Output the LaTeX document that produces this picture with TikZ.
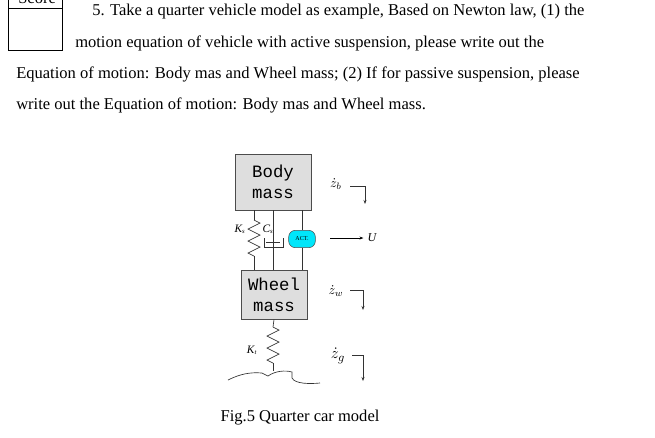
\documentclass[tikz,border=0pt]{standalone}
\usepackage{fontspec}
\setmainfont{Liberation Serif}
\newfontfamily\monof{Liberation Mono}
\usetikzlibrary{decorations.pathmorphing,arrows.meta}
\definecolor{actc}{RGB}{0,230,250}
\begin{document}
\begin{tikzpicture}[x=0.75pt,y=-0.75pt,
  txt/.style={anchor=base west,inner sep=0,font=\fontsize{12.4}{14}\selectfont},
  mass/.style={draw=black!70,fill=black!13,line width=0.5pt,align=center,font=\monof\fontsize{13}{16}\selectfont},
  spr/.style={decorate,decoration={zigzag,segment length=9pt,amplitude=4.5pt},line width=0.5pt},
  ln/.style={line width=0.5pt,black!80},
  arr/.style={line width=0.5pt,-{Stealth[length=3pt]}}]
\useasboundingbox (0,0) rectangle (655,437);
\begin{scope}
\clip (0,0) rectangle (655,437);
\draw[line width=0.7pt] (8,-10) rectangle (62,50);
\draw[line width=0.7pt] (8,8) -- (62,8);
\node[txt] (sc) at (18,3) {Score};
\end{scope}
\node[txt] (l1) at (92,15) {5. Take a quarter vehicle model as example, Based on Newton law, (1) the};
\node[txt] (l2) at (75,47) {motion equation of vehicle with active suspension, please write out the};
\node[txt] (l3) at (16,78) {Equation of motion: Body mas and Wheel mass; (2) If for passive suspension, please};
\node[txt] (l4) at (16,109) {write out the Equation of motion: Body mas and Wheel mass.};
% masses
\node[mass,minimum width=57pt,minimum height=42pt] (body) at (273,182) {Body\\mass};
\node[mass,minimum width=49.5pt,minimum height=37pt] (wheel) at (274,294.5) {Wheel\\mass};
% spring Ks
\coordinate (s1) at (254,210); \coordinate (s2) at (254,270);
\draw[ln] (s1) -- (254,220);
\draw[ln,spr] (254,220) -- (254,256);
\draw[ln] (254,256) -- (s2);
% damper
\draw[ln] (273,210) -- (273,245);
\draw[ln] (264,238) -- (264,247) -- (283,247) -- (283,238);
\draw[ln] (266,242) -- (280,242);
\draw[ln] (273,242) -- (273,270);
% actuator
\node[draw=black!70,fill=actc,rounded corners=5pt,minimum width=20pt,minimum height=13pt,inner sep=0,font=\fontsize{4.5}{5}\selectfont] (act) at (302,239) {ACT.};
\draw[ln] (302,210) -- (act.north);
\draw[ln] (act.south) -- (302,270);
\node[font=\itshape\fontsize{8.5}{9}\selectfont,inner sep=0] (ks) at (240,229) {K\textsubscript{\fontsize{5}{5}\selectfont s}};
\node[font=\itshape\fontsize{8.5}{9}\selectfont,inner sep=0] (cs) at (268,229) {C\textsubscript{\fontsize{5}{5}\selectfont s}};
% tyre spring
\draw[ln] (wheel.south) -- (273,327);
\draw[ln,spr] (273,327) -- (273,363);
\draw[ln] (273,363) -- (273,371);
\node[font=\itshape\fontsize{8.5}{9}\selectfont,inner sep=0] (kt) at (252,350) {K\textsubscript{\fontsize{5}{5}\selectfont t}};
% ground
\draw[ln] (228,380) .. controls (240,374) and (250,372) .. (262,373) -- (268,376) .. controls (275,371) and (285,370) .. (292,372) -- (292,378) .. controls (295,384) and (310,384) .. (320,383);
% velocities
\node[font=\fontsize{10}{10}\selectfont,inner sep=1pt] (zb) at (336,184) {$\dot z_b$};
\draw[ln,-{Stealth[length=3pt]}] (350,186) -- (365,186) -- (365,204);
\node[font=\fontsize{10}{10}\selectfont,inner sep=1pt] (zw) at (336,291) {$\dot z_w$};
\draw[ln,-{Stealth[length=3pt]}] (350,290) -- (363,290) -- (363,310);
\node[font=\fontsize{13}{13}\selectfont,inner sep=1pt] (zg) at (338,356) {$\dot z_g$};
\draw[ln,-{Stealth[length=3pt]}] (352,355) -- (363,355) -- (363,381);
\node[font=\itshape\fontsize{9}{9}\selectfont,inner sep=0] (u) at (372,238) {U};
\coordinate (ua) at (330,238);
\draw[arr] (ua) -- ([xshift=-3pt]u.west);
\node[anchor=base,inner sep=0,font=\fontsize{12.4}{14}\selectfont] (cap) at (300,421) {Fig.5 Quarter car model};
\end{tikzpicture}
\end{document}
